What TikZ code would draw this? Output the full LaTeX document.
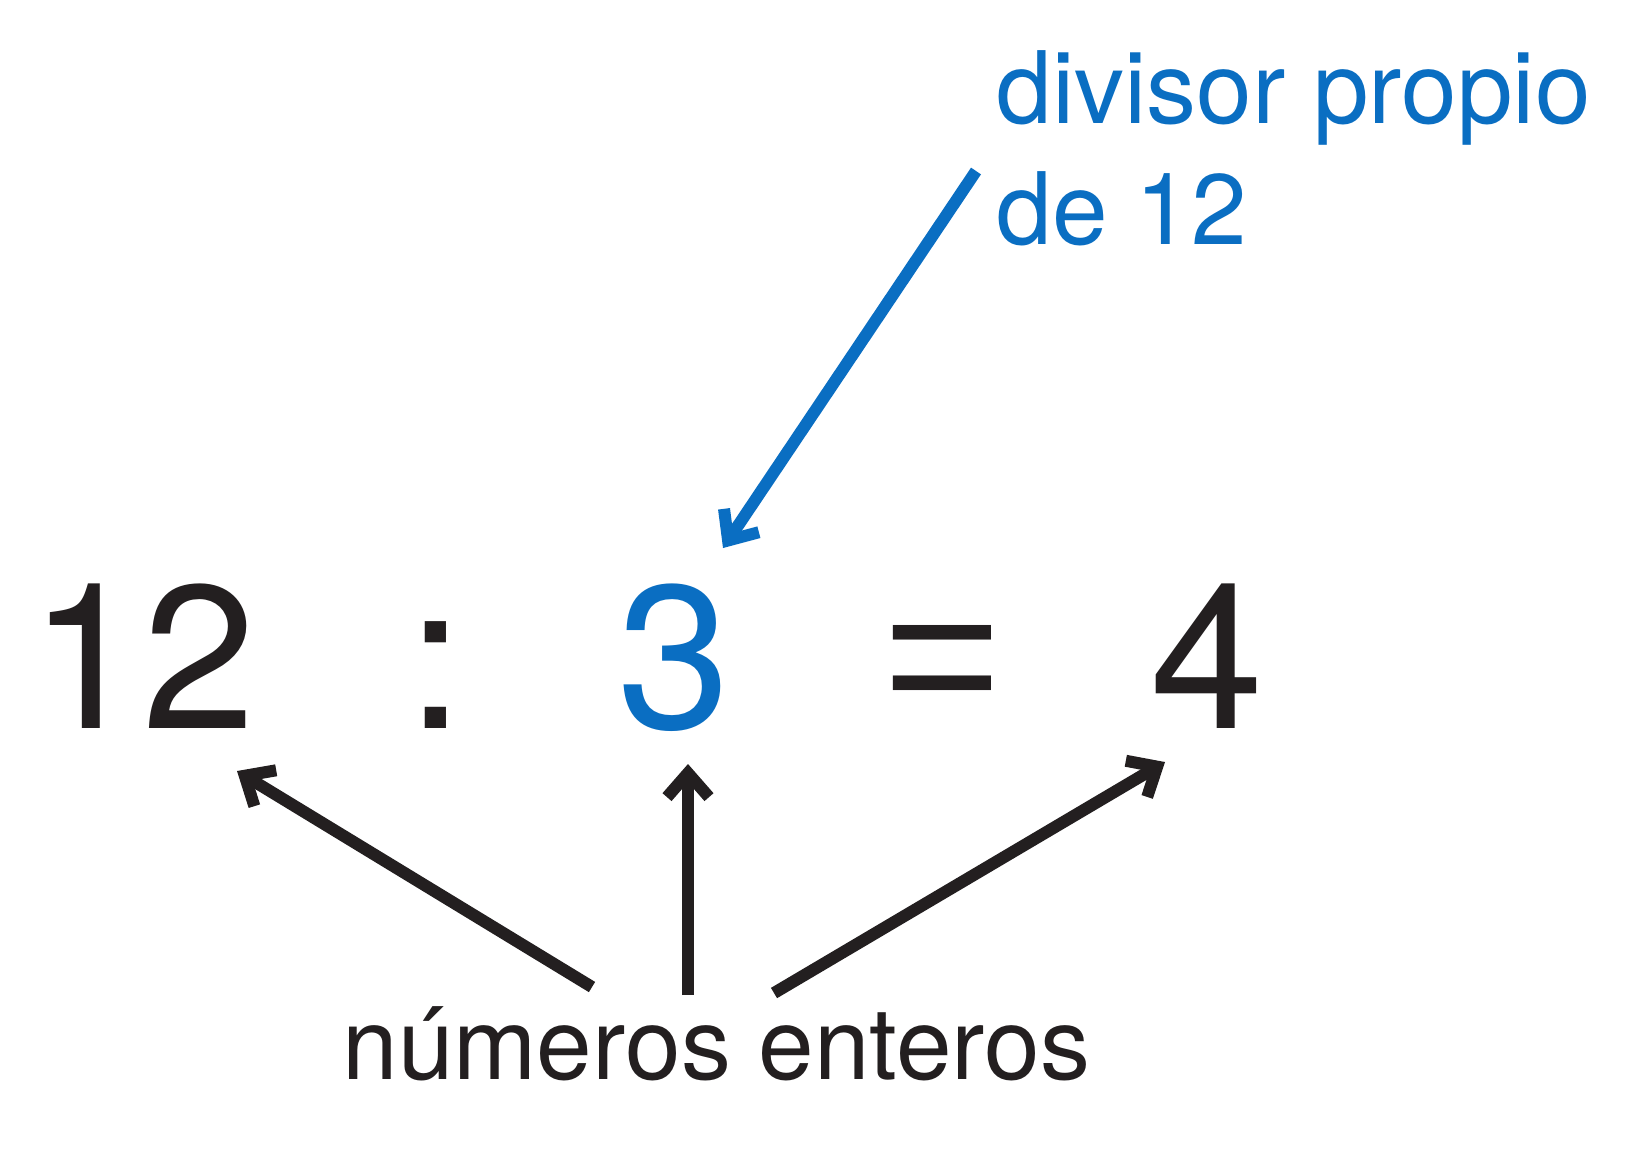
\documentclass[tikz,border=0pt]{standalone}
\usepackage{fontspec}
\setmainfont{TeX Gyre Heros}
\newfontfamily\eqfont{Liberation Sans}
\usetikzlibrary{arrows.meta}
\definecolor{ink}{HTML}{231F20}
\definecolor{divblue}{HTML}{0A6EC2}
\tikzset{
  bignum/.style={inner sep=0pt, font=\fontsize{102}{110}\selectfont, text=ink},
  label/.style={inner sep=0pt, font=\fontsize{50}{60}\selectfont, text=ink},
  pointer/.style={line width=6pt, draw=ink, -{Straight Barb[length=12pt,width=21pt]}},
}
\begin{document}
\begin{tikzpicture}[x=0.5pt,y=-0.5pt]
\useasboundingbox[fill=white] (0,0) rectangle (1641,1158);
% equation
\node[bignum, anchor=base west] (n12) at (29,728) {12};
\node[bignum, anchor=base] (colon) at (435.5,728) {:};
\node[bignum, anchor=base, text=divblue] (n3) at (674,728) {3};
\node[bignum, anchor=base, font=\eqfont\fontsize{101}{110}\selectfont] (eq) at (942,724) {=};
\node[bignum, anchor=base] (n4) at (1207,728) {4};
% labels
\node[label, anchor=base west, text=divblue] (div1) at (996,123.5) {divisor propio};
\node[label, anchor=base west, text=divblue] (div2) at (996,244) {de 12};
\node[label, anchor=base west] (ent) at (342,1079) {números enteros};
% arrow ends
\coordinate (bt) at (976,171);
\coordinate (bh) at (723,548);
\coordinate (lt) at (592,987);
\coordinate (lh) at (237,771);
\coordinate (mt) at (688,995);
\coordinate (mh) at (688,764);
\coordinate (rt) at (774,993);
\coordinate (rh) at (1165,762);
\draw[pointer, draw=divblue] (bt) -- (bh);
\draw[pointer] (lt) -- (lh);
\draw[pointer] (mt) -- (mh);
\draw[pointer] (rt) -- (rh);
\end{tikzpicture}
\end{document}
